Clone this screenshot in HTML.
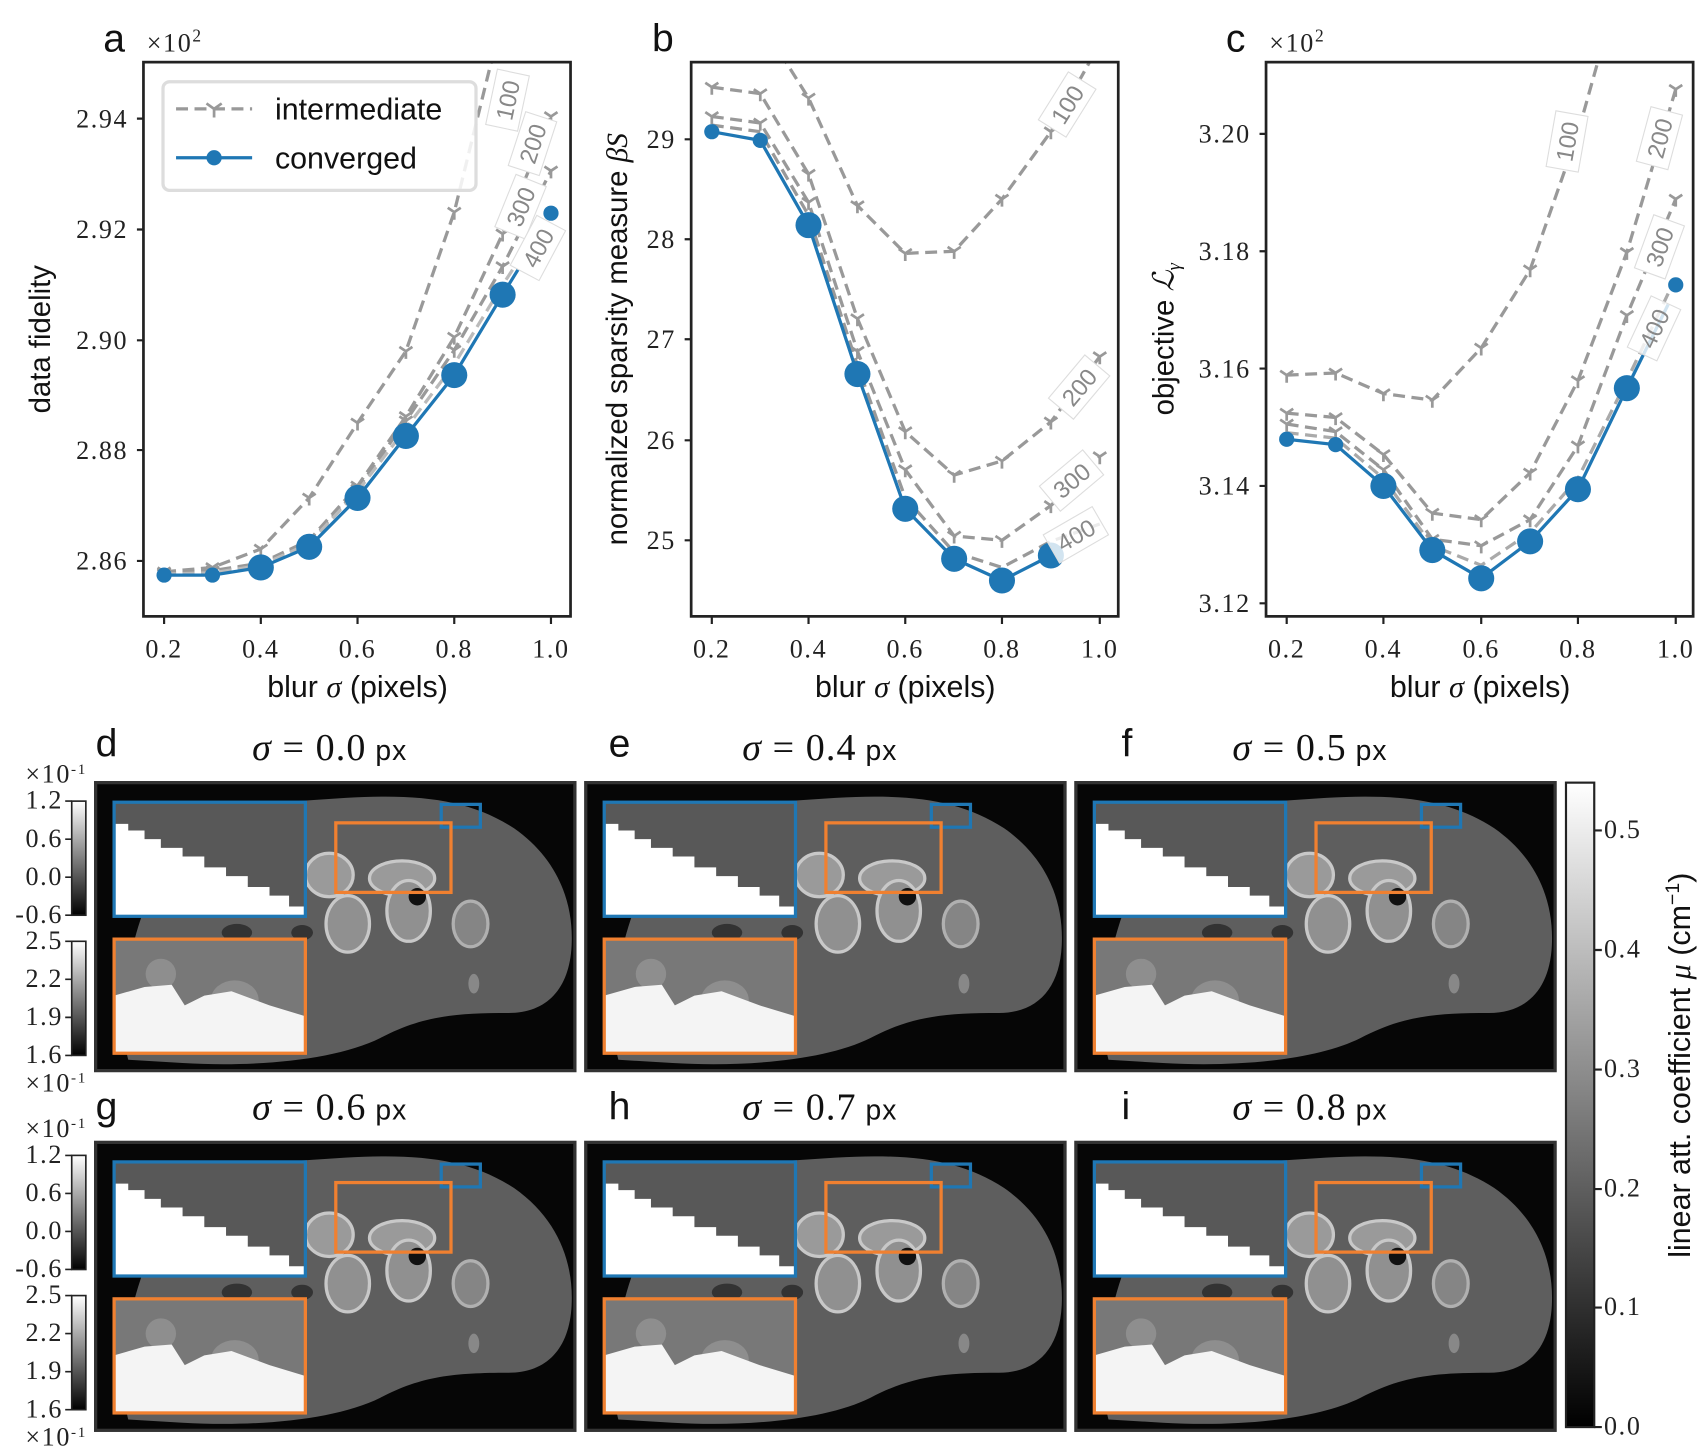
<!DOCTYPE html>
<html><head><meta charset="utf-8"><style>
html,body{margin:0;padding:0;background:#fff;}
svg{display:block;}
.t{font-family:"Liberation Serif",serif;font-size:24px;fill:#222;letter-spacing:1.5px;}
.s{font-family:"Liberation Sans",sans-serif;fill:#111;}
.lb{font-family:"Liberation Sans",sans-serif;font-size:22px;fill:#888;}
</style></head><body>
<svg width="1704" height="1449" viewBox="0 0 1568 1333" xmlns="http://www.w3.org/2000/svg">
<defs>
<marker id="tri" viewBox="-8 -8 16 16" markerWidth="16" markerHeight="16" refX="0" refY="0" markerUnits="userSpaceOnUse">
<path d="M0 0 L0 7 M0 0 L-6 -4 M0 0 L6 -4" stroke="#999" stroke-width="2.5" fill="none"/></marker>
<clipPath id="ca"><rect x="132" y="57" width="393" height="510"/></clipPath>
<clipPath id="cb"><rect x="636" y="57" width="393" height="510"/></clipPath>
<clipPath id="cc"><rect x="1165" y="57" width="393" height="510"/></clipPath>
<linearGradient id="gr" x1="0" y1="1" x2="0" y2="0"><stop offset="0" stop-color="#000"/><stop offset="1" stop-color="#fff"/></linearGradient>
<clipPath id="pc"><rect x="0" y="0" width="441" height="265"/></clipPath>
<g id="img">
<rect x="0" y="0" width="441" height="265" fill="#060606" stroke="#333" stroke-width="3"/>
<g clip-path="url(#pc)">
<path d="M30 255 C15 200 40 40 140 20 L230 14 C300 10 345 16 385 42 C425 70 440 110 438 150 C436 190 415 212 380 212 C330 212 300 215 262 235 C222 255 150 262 80 258 Z" fill="#5e5e5e"/>
<ellipse cx="215" cy="85" rx="22" ry="20" fill="#9a9a9a" stroke="#c8c8c8" stroke-width="3"/>
<ellipse cx="282" cy="88" rx="30" ry="16" fill="#9a9a9a" stroke="#c8c8c8" stroke-width="3"/>
<ellipse cx="232" cy="130" rx="20" ry="26" fill="#909090" stroke="#c8c8c8" stroke-width="3"/>
<ellipse cx="288" cy="118" rx="20" ry="28" fill="#909090" stroke="#c8c8c8" stroke-width="3"/>
<ellipse cx="345" cy="130" rx="16" ry="21" fill="#858585" stroke="#b0b0b0" stroke-width="3"/>
<circle cx="296" cy="105" r="8" fill="#111"/>
<ellipse cx="130" cy="138" rx="14" ry="8" fill="#333"/>
<ellipse cx="190" cy="138" rx="10" ry="7" fill="#333"/>
<ellipse cx="348" cy="185" rx="5" ry="9" fill="#888"/>
</g>
<rect x="17" y="18" width="176" height="105" fill="#585858"/>
<path d="M17 38 L30 38 L30 44 L45 44 L45 52 L60 52 L60 60 L80 60 L80 68 L100 68 L100 78 L120 78 L120 86 L140 86 L140 96 L160 96 L160 104 L178 104 L178 114 L193 114 L193 123 L17 123 Z" fill="#fff"/>
<rect x="17" y="18" width="176" height="105" fill="none" stroke="#1f77b4" stroke-width="3"/>
<rect x="17" y="144" width="176" height="105" fill="#787878"/>
<ellipse cx="60" cy="176" rx="14" ry="14" fill="#8e8e8e"/>
<ellipse cx="128" cy="200" rx="22" ry="18" fill="#8e8e8e"/>
<path d="M17 196 L45 188 L70 186 L82 205 L100 196 L125 192 L160 205 L193 215 L193 249 L17 249 Z" fill="#f4f4f4"/>
<rect x="17" y="144" width="176" height="105" fill="none" stroke="#f08030" stroke-width="3"/>
<rect x="318" y="20" width="36" height="21" fill="none" stroke="#1f77b4" stroke-width="3"/>
<rect x="221" y="37" width="106" height="64" fill="none" stroke="#f08030" stroke-width="3"/>
</g>
<g id="scb">
<rect x="66" y="737" width="13" height="105" fill="url(#gr)" stroke="#222" stroke-width="1.5"/>
<rect x="66" y="866" width="13" height="105" fill="url(#gr)" stroke="#222" stroke-width="1.5"/>
<path d="M60 737h6M60 772h6M60 807h6M60 842h6M60 866h6M60 901h6M60 936h6M60 971h6" stroke="#222" stroke-width="1.5"/>
<g class="t" text-anchor="end" font-size="22" letter-spacing="1">
<text x="58" y="744">1.2</text><text x="58" y="779">0.6</text><text x="58" y="814">0.0</text><text x="58" y="849">-0.6</text>
<text x="58" y="873">2.5</text><text x="58" y="908">2.2</text><text x="58" y="943">1.9</text><text x="58" y="978">1.6</text>
<text x="80" y="720">×10<tspan font-size="14" dy="-8">-1</tspan></text>
<text x="80" y="1004">×10<tspan font-size="14" dy="-8">-1</tspan></text>
</g>
</g>
</defs>

<!-- Panel a -->
<g clip-path="url(#ca)" fill="none">
<polyline points="151,526 195.5,522 240,505 284.5,458 329,389 373.5,323 418,195 452,57" stroke="#999" stroke-width="3" stroke-dasharray="11,6" marker-start="url(#tri)" marker-mid="url(#tri)"/>
<polyline points="151,527 195.5,525 240,518 284.5,497 329,447 373.5,383 418,310 462.5,215 507,107" stroke="#999" stroke-width="3" stroke-dasharray="11,6" marker-start="url(#tri)" marker-mid="url(#tri)" marker-end="url(#tri)"/>
<polyline points="151,528 195.5,526 240,519 284.5,499 329,450 373.5,387 418,322 462.5,245 507,157" stroke="#999" stroke-width="3" stroke-dasharray="11,6" marker-start="url(#tri)" marker-mid="url(#tri)" marker-end="url(#tri)"/>
<polyline points="151,528 195.5,527 240,520 284.5,500 329,452 373.5,394 418,335 462.5,262 500,205" stroke="#bbb" stroke-width="3" stroke-dasharray="11,6"/>
<polyline points="151,529 195.5,529 240,522 284.5,503 329,458 373.5,401 418,345 462.5,271 500,210" stroke="#1f77b4" stroke-width="3"/>
</g>
<g fill="#1f77b4"><circle cx="151" cy="529" r="7"/><circle cx="195.5" cy="529" r="7"/><circle cx="240" cy="522" r="12"/><circle cx="284.5" cy="503" r="12"/><circle cx="329" cy="458" r="12"/><circle cx="373.5" cy="401" r="12"/><circle cx="418" cy="345" r="12"/><circle cx="462.5" cy="271" r="12"/><circle cx="507" cy="196" r="7"/></g>
<g class="lb">
<g transform="translate(467,92) rotate(-78)"><rect x="-26" y="-15" width="52" height="30" fill="#fff" stroke="#ddd"/><text x="0" y="8" text-anchor="middle">100</text></g>
<g transform="translate(490,132) rotate(-72)"><rect x="-26" y="-15" width="52" height="30" fill="#fff" stroke="#ddd"/><text x="0" y="8" text-anchor="middle">200</text></g>
<g transform="translate(479,190) rotate(-68)"><rect x="-26" y="-15" width="52" height="30" fill="#fff" stroke="#ddd"/><text x="0" y="8" text-anchor="middle">300</text></g>
<g transform="translate(495,228) rotate(-62)"><rect x="-26" y="-15" width="52" height="30" fill="#fff" stroke="#ddd"/><text x="0" y="8" text-anchor="middle">400</text></g>
</g>
<rect x="150" y="75" width="288" height="100" rx="6" fill="#fff" fill-opacity="0.85" stroke="#ddd" stroke-width="3"/>
<line x1="162" y1="100" x2="232" y2="100" stroke="#999" stroke-width="3" stroke-dasharray="11,6"/>
<path d="M197 100 L197 108 M197 100 L190 95 M197 100 L204 95" stroke="#999" stroke-width="2.5"/>
<line x1="162" y1="145" x2="232" y2="145" stroke="#1f77b4" stroke-width="3"/><circle cx="197" cy="145" r="7" fill="#1f77b4"/>
<text class="s" x="253" y="110" font-size="28">intermediate</text>
<text class="s" x="253" y="155" font-size="28">converged</text>
<rect x="132" y="57" width="393" height="510" fill="none" stroke="#222" stroke-width="2.5"/>
<path d="M126 109h6M126 211h6M126 313h6M126 414h6M126 516h6M151 567v7M240 567v7M329 567v7M418 567v7M507 567v7" stroke="#222" stroke-width="2"/>
<g class="t" text-anchor="end"><text x="118" y="117">2.94</text><text x="118" y="219">2.92</text><text x="118" y="321">2.90</text><text x="118" y="422">2.88</text><text x="118" y="524">2.86</text></g>
<g class="t" text-anchor="middle"><text x="151" y="605">0.2</text><text x="240" y="605">0.4</text><text x="329" y="605">0.6</text><text x="418" y="605">0.8</text><text x="507" y="605">1.0</text></g>
<text class="t" x="135" y="47">×10<tspan font-size="16" dy="-9">2</tspan></text>
<text class="s" x="95" y="47" font-size="36">a</text>
<text class="s" transform="translate(46,312) rotate(-90)" text-anchor="middle" font-size="27">data fidelity</text>
<text class="s" x="329" y="641" text-anchor="middle" font-size="28">blur <tspan font-family="Liberation Serif" font-style="italic">σ</tspan> (pixels)</text>

<!-- Panel b -->
<g clip-path="url(#cb)" fill="none">
<polyline points="700,20 744,90 789,189 833,233 878,231 922,183 967,121 1012,40" stroke="#999" stroke-width="3" stroke-dasharray="11,6" marker-mid="url(#tri)"/>
<polyline points="655,80 699.6,86 744,160 789,293 833,397 878,437 922,424 967,388 1012,328" stroke="#999" stroke-width="3" stroke-dasharray="11,6" marker-start="url(#tri)" marker-mid="url(#tri)" marker-end="url(#tri)"/>
<polyline points="655,107 699.6,113 744,186 789,323 833,432 878,493 922,497 967,465 1012,420" stroke="#999" stroke-width="3" stroke-dasharray="11,6" marker-start="url(#tri)" marker-mid="url(#tri)" marker-end="url(#tri)"/>
<polyline points="655,115 699.6,121 744,198 789,336 833,458 878,508 922,522 967,498 1012,482" stroke="#999" stroke-width="3" stroke-dasharray="11,6"/>
<polyline points="655,121 699.6,129 744,207 789,344 833,468 878,514 922,534 967,511" stroke="#1f77b4" stroke-width="3"/>
</g>
<g fill="#1f77b4"><circle cx="655" cy="121" r="7"/><circle cx="699.6" cy="129" r="7"/><circle cx="744" cy="207" r="12"/><circle cx="789" cy="344" r="12"/><circle cx="833" cy="468" r="12"/><circle cx="878" cy="514" r="12"/><circle cx="922" cy="534" r="12"/><circle cx="967" cy="511" r="12"/></g>
<g class="lb">
<g transform="translate(982,96) rotate(-58)"><rect x="-26" y="-15" width="52" height="30" fill="#fff" stroke="#ddd"/><text x="0" y="8" text-anchor="middle">100</text></g>
<g transform="translate(993,356) rotate(-50)"><rect x="-26" y="-15" width="52" height="30" fill="#fff" stroke="#ddd"/><text x="0" y="8" text-anchor="middle">200</text></g>
<g transform="translate(986,442) rotate(-40)"><rect x="-26" y="-15" width="52" height="30" fill="#fff" stroke="#ddd"/><text x="0" y="8" text-anchor="middle">300</text></g>
<g transform="translate(990,492) rotate(-30)"><rect x="-26" y="-15" width="52" height="30" fill="#fff" fill-opacity="0.8" stroke="#ddd"/><text x="0" y="8" text-anchor="middle">400</text></g>
</g>
<rect x="636" y="57" width="393" height="510" fill="none" stroke="#222" stroke-width="2.5"/>
<path d="M630 128h6M630 220h6M630 312h6M630 405h6M630 497h6M655 567v7M744 567v7M833 567v7M922 567v7M1012 567v7" stroke="#222" stroke-width="2"/>
<g class="t" text-anchor="end"><text x="622" y="136">29</text><text x="622" y="228">28</text><text x="622" y="320">27</text><text x="622" y="413">26</text><text x="622" y="505">25</text></g>
<g class="t" text-anchor="middle"><text x="655" y="605">0.2</text><text x="744" y="605">0.4</text><text x="833" y="605">0.6</text><text x="922" y="605">0.8</text><text x="1012" y="605">1.0</text></g>
<text class="s" x="600" y="47" font-size="36">b</text>
<text class="s" transform="translate(577,312) rotate(-90)" text-anchor="middle" font-size="27">normalized sparsity measure <tspan font-family="Liberation Serif" font-style="italic">βS</tspan></text>
<text class="s" x="833" y="641" text-anchor="middle" font-size="28">blur <tspan font-family="Liberation Serif" font-style="italic">σ</tspan> (pixels)</text>

<!-- Panel c -->
<g clip-path="url(#cc)" fill="none">
<polyline points="1184,345 1229,343 1273,362 1318,368 1363,320 1408,248 1452,122 1475,40" stroke="#999" stroke-width="3" stroke-dasharray="11,6" marker-start="url(#tri)" marker-mid="url(#tri)"/>
<polyline points="1184,380 1229,384 1273,418 1318,472 1363,478 1408,435 1452,350 1497,232 1542,82" stroke="#999" stroke-width="3" stroke-dasharray="11,6" marker-start="url(#tri)" marker-mid="url(#tri)" marker-end="url(#tri)"/>
<polyline points="1184,390 1229,397 1273,432 1318,496 1363,502 1408,478 1452,410 1497,290 1542,183" stroke="#999" stroke-width="3" stroke-dasharray="11,6" marker-start="url(#tri)" marker-mid="url(#tri)" marker-end="url(#tri)"/>
<polyline points="1184,398 1229,403 1273,440 1318,502 1363,520 1408,490 1452,440 1497,350 1535,270" stroke="#aaa" stroke-width="3" stroke-dasharray="11,6"/>
<polyline points="1184,404 1229,409 1273,447 1318,506 1363,532 1408,498 1452,450 1497,357 1535,280" stroke="#1f77b4" stroke-width="3"/>
</g>
<g fill="#1f77b4"><circle cx="1184" cy="404" r="7"/><circle cx="1229" cy="409" r="7"/><circle cx="1273" cy="447" r="12"/><circle cx="1318" cy="506" r="12"/><circle cx="1363" cy="532" r="12"/><circle cx="1408" cy="498" r="12"/><circle cx="1452" cy="450" r="12"/><circle cx="1497" cy="357" r="12"/><circle cx="1542" cy="262" r="7"/></g>
<g class="lb">
<g transform="translate(1442,130) rotate(-80)"><rect x="-26" y="-15" width="52" height="30" fill="#fff" stroke="#ddd"/><text x="0" y="8" text-anchor="middle">100</text></g>
<g transform="translate(1527,127) rotate(-75)"><rect x="-26" y="-15" width="52" height="30" fill="#fff" stroke="#ddd"/><text x="0" y="8" text-anchor="middle">200</text></g>
<g transform="translate(1527,227) rotate(-70)"><rect x="-26" y="-15" width="52" height="30" fill="#fff" stroke="#ddd"/><text x="0" y="8" text-anchor="middle">300</text></g>
<g transform="translate(1522,302) rotate(-65)"><rect x="-26" y="-15" width="52" height="30" fill="#fff" fill-opacity="0.8" stroke="#ddd"/><text x="0" y="8" text-anchor="middle">400</text></g>
</g>
<rect x="1165" y="57" width="393" height="510" fill="none" stroke="#222" stroke-width="2.5"/>
<path d="M1159 123h6M1159 231h6M1159 339h6M1159 447h6M1159 555h6M1184 567v7M1273 567v7M1363 567v7M1452 567v7M1542 567v7" stroke="#222" stroke-width="2"/>
<g class="t" text-anchor="end"><text x="1151" y="131">3.20</text><text x="1151" y="239">3.18</text><text x="1151" y="347">3.16</text><text x="1151" y="455">3.14</text><text x="1151" y="563">3.12</text></g>
<g class="t" text-anchor="middle"><text x="1184" y="605">0.2</text><text x="1273" y="605">0.4</text><text x="1363" y="605">0.6</text><text x="1452" y="605">0.8</text><text x="1542" y="605">1.0</text></g>
<text class="t" x="1168" y="47">×10<tspan font-size="16" dy="-9">2</tspan></text>
<text class="s" x="1128" y="47" font-size="36">c</text>
<text class="s" transform="translate(1080,312) rotate(-90)" text-anchor="middle" font-size="27">objective <tspan font-family="Liberation Serif" font-style="italic">ℒ<tspan font-size="17" dy="6">γ</tspan></tspan></text>
<text class="s" x="1362" y="641" text-anchor="middle" font-size="28">blur <tspan font-family="Liberation Serif" font-style="italic">σ</tspan> (pixels)</text>

<!-- Images -->
<use href="#img" x="88" y="720"/><use href="#img" x="539" y="720"/><use href="#img" x="990" y="720"/>
<use href="#img" x="88" y="1051"/><use href="#img" x="539" y="1051"/><use href="#img" x="990" y="1051"/>
<use href="#scb"/><use href="#scb" y="326"/>
<g font-size="36" class="s"><text x="88" y="696">d</text><text x="560" y="696">e</text><text x="1032" y="696">f</text>
<text x="88" y="1030">g</text><text x="560" y="1030">h</text><text x="1032" y="1030">i</text></g>
<g font-size="35" font-family="Liberation Serif" fill="#111" letter-spacing="1">
<text x="232" y="699"><tspan font-style="italic">σ</tspan> = 0.0<tspan font-family="Liberation Sans" font-size="26"> px</tspan></text>
<text x="683" y="699"><tspan font-style="italic">σ</tspan> = 0.4<tspan font-family="Liberation Sans" font-size="26"> px</tspan></text>
<text x="1134" y="699"><tspan font-style="italic">σ</tspan> = 0.5<tspan font-family="Liberation Sans" font-size="26"> px</tspan></text>
<text x="232" y="1030"><tspan font-style="italic">σ</tspan> = 0.6<tspan font-family="Liberation Sans" font-size="26"> px</tspan></text>
<text x="683" y="1030"><tspan font-style="italic">σ</tspan> = 0.7<tspan font-family="Liberation Sans" font-size="26"> px</tspan></text>
<text x="1134" y="1030"><tspan font-style="italic">σ</tspan> = 0.8<tspan font-family="Liberation Sans" font-size="26"> px</tspan></text>
</g>
<rect x="1441" y="720" width="26" height="593" fill="url(#gr)" stroke="#222" stroke-width="2"/>
<path d="M1467 764h7M1467 874h7M1467 984h7M1467 1094h7M1467 1203h7M1467 1313h7" stroke="#222" stroke-width="2"/>
<g class="t"><text x="1476" y="771">0.5</text><text x="1476" y="881">0.4</text><text x="1476" y="991">0.3</text><text x="1476" y="1101">0.2</text><text x="1476" y="1210">0.1</text><text x="1476" y="1320">0.0</text></g>
<text class="s" transform="translate(1555,980) rotate(-90)" text-anchor="middle" font-size="28">linear att. coefficient <tspan font-family="Liberation Serif" font-style="italic">μ</tspan> (cm<tspan font-size="18" dy="-10">−1</tspan><tspan dy="10">)</tspan></text>
</svg>
</body></html>
